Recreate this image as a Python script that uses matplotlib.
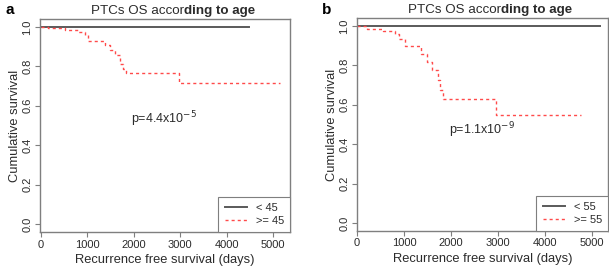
import numpy as np
import matplotlib

matplotlib.use("Agg")
import matplotlib.pyplot as plt

plt.rcParams["font.family"] = ["Liberation Sans", "DejaVu Sans"]

# ---- data ----
# panel a: age cut-off 45
a_days_old = [0, 150, 510, 800, 940, 1010, 1370, 1480, 1590, 1700, 1770, 1840, 2980, 5150]
a_surv_old = [1.0, 0.993, 0.983, 0.974, 0.961, 0.928, 0.906, 0.884, 0.858, 0.812, 0.787, 0.764, 0.713, 0.713]
a_days_young = [0, 4490]
a_surv_young = [1.0, 1.0]

# panel b: age cut-off 55
b_days_old = [0, 206, 560, 810, 900, 1020, 1360, 1480, 1590, 1715, 1766, 1840, 2957, 4770]
b_surv_old = [1.0, 0.986, 0.974, 0.957, 0.935, 0.896, 0.859, 0.817, 0.775, 0.728, 0.673, 0.629, 0.550, 0.550]
b_days_young = [0, 5170]
b_surv_young = [1.0, 1.0]

xticks = [0, 1000, 2000, 3000, 4000, 5000]
yticks = [0.0, 0.2, 0.4, 0.6, 0.8, 1.0]

GREY = "#7f7f7f"
RED = "#ff4a4a"
TXT = "#2b2b2b"

fig = plt.figure(figsize=(6.09, 2.71), dpi=100)

panels = [
    dict(rect=[40 / 609, 39 / 271, 250 / 609, 213 / 271], xlim=(-20, 5366),
         young=(a_days_young, a_surv_young), old=(a_days_old, a_surv_old),
         cut=45, p="p=4.4x10$^{-5}$", ptxt=(2650, 0.53), letter="a", lx=6 / 609),
    dict(rect=[357 / 609, 40 / 271, 251 / 609, 213 / 271], xlim=(0, 5340),
         young=(b_days_young, b_surv_young), old=(b_days_old, b_surv_old),
         cut=55, p="p=1.1x10$^{-9}$", ptxt=(2650, 0.47), letter="b", lx=322 / 609),
]

for pn in panels:
    ax = fig.add_axes(pn["rect"])
    ax.step(*pn["young"], where="post", color="#5a5a5a", lw=1.4, label=f"< {pn['cut']}")
    ax.step(*pn["old"], where="post", color=RED, lw=1.0, ls=(0, (2.2, 2.2)),
            label=f">= {pn['cut']}")
    ax.set_xlim(*pn["xlim"])
    ax.set_ylim(-0.04, 1.04)
    ax.set_xticks(xticks)
    ax.set_yticks(yticks)
    ax.set_yticklabels([f"{v:.1f}" for v in yticks], rotation=90, va="center")
    ax.tick_params(colors=GREY, labelcolor=TXT, labelsize=8, length=3.6, width=0.8, pad=1.8)
    for s in ax.spines.values():
        s.set_color(GREY)
        s.set_linewidth(1.0)
    ax.set_xlabel("Recurrence free survival (days)", fontsize=9.3, color=TXT, labelpad=3)
    ax.set_ylabel("Cumulative survival", fontsize=9.3, color=TXT, labelpad=1)
    ax.text(*pn["ptxt"], pn["p"], ha="center", va="center", fontsize=9, color=TXT)

    # title: second half printed bold as in the original figure
    t1 = ax.text(0.575, 1.008, "PTCs OS accor", transform=ax.transAxes,
                 ha="right", va="bottom", fontsize=9.6, color=TXT)
    ax.annotate("ding to age", xy=(1, 0), xycoords=t1, ha="left", va="bottom",
                fontsize=9.6, fontweight="bold", color=TXT)
    fig.text(pn["lx"], 0.99, pn["letter"], fontsize=11, fontweight="bold", va="top")

    leg = ax.legend(loc="lower right", borderaxespad=0, fancybox=False,
                    edgecolor=GREY, framealpha=1, fontsize=8, handlelength=2.0,
                    borderpad=0.55, labelspacing=0.25, handletextpad=0.8)
    leg.get_frame().set_linewidth(0.8)
    for t in leg.get_texts():
        t.set_color(TXT)

fig.savefig("out.png", dpi=100)
